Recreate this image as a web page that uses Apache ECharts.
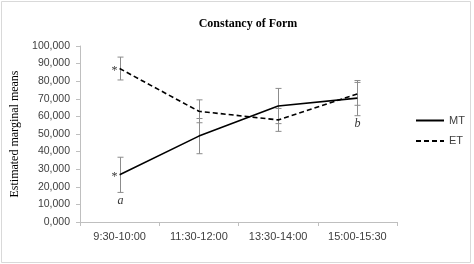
<!DOCTYPE html>
<html><head><meta charset="utf-8">
<script src="https://cdn.jsdelivr.net/npm/echarts@6/dist/echarts.min.js"></script>
<style>html,body{margin:0;padding:0;background:#fff}#c{width:474px;height:264px}</style>
</head><body><div id="c"></div>
<script>
const categories = ['9:30-10:00','11:30-12:00','13:30-14:00','15:00-15:30'];
const mtMeans = [26800, 48800, 65900, 70400];
const mtErr = [10000, 10000, 10000, 10000];
const etMeans = [87200, 62900, 58000, 72800];
const etErr = [6500, 6500, 6500, 6500];
const yTicks = [0, 10000, 20000, 30000, 40000, 50000, 60000, 70000, 80000, 90000, 100000];
const mtLetters = ['a', '', '', 'b'];
const stars = ['*', '', '', ''];

function fmt(v){ return v === 0 ? '0,000' : (v/1000) + ',000'; }

function errSeries(name, means, errs, letters, marks){
  return {
    type: 'custom', name: name + 'err', silent: true, z: 3,
    data: means.map((m,i)=>[i, m-errs[i], m+errs[i], m, letters ? letters[i] : '', marks[i]]),
    renderItem: function(params, api){
      const lo = api.coord([api.value(0), api.value(1)]);
      const hi = api.coord([api.value(0), api.value(2)]);
      const mid = api.coord([api.value(0), api.value(3)]);
      const x = Math.round(lo[0]) + 0.5;
      const st = {stroke:'#8c8c8c', lineWidth:1};
      const ch = [
        {type:'line', shape:{x1:x,y1:hi[1],x2:x,y2:lo[1]}, style:st},
        {type:'line', shape:{x1:x-3,y1:hi[1],x2:x+3,y2:hi[1]}, style:st},
        {type:'line', shape:{x1:x-3,y1:lo[1],x2:x+3,y2:lo[1]}, style:st}
      ];
      const t = api.value(4);
      if (t) ch.push({type:'text', style:{text:t, x:x, y:lo[1]+8, align:'center', verticalAlign:'middle', font:'italic 12px "Liberation Serif"', fill:'#333'}});
      const s = api.value(5);
      if (s) ch.push({type:'text', style:{text:s, x:x-6, y:mid[1]+2, align:'center', verticalAlign:'middle', font:'12px "Liberation Serif"', fill:'#333'}});
      return {type:'group', children:ch};
    }
  };
}

const chart = echarts.init(document.getElementById('c'));
chart.setOption({
  animation: false,
  backgroundColor: '#fff',
  title: { text: 'Constancy of Form', left: 243, textAlign: 'center', top: 13,
    textStyle: { fontFamily: 'Liberation Serif', fontWeight: 'bold', fontSize: 12, color: '#000' } },
  graphic: [{ type:'rect', shape:{x:1.5,y:1.5,width:469,height:261}, style:{fill:'none', stroke:'#d9d9d9', lineWidth:1}, silent:true }],
  legend: { orient:'vertical', left: 415, top: 115, padding: 0, itemWidth: 28, itemHeight: 12, itemGap: 9.5,
    itemStyle: { opacity: 0 },
    textStyle: { fontFamily:'Liberation Sans', fontSize: 11, color:'#404040' },
    data: ['MT','ET'] },
  grid: { left: 80, right: 77, top: 46, bottom: 42 },
  xAxis: { type:'category', data: categories, boundaryGap: true,
    axisLine: { lineStyle: { color:'#bfbfbf' } },
    axisTick: { show:true, length:4, lineStyle:{color:'#bfbfbf'} },
    axisLabel: { fontFamily:'Liberation Sans', fontSize: 11, color:'#404040', margin: 9 } },
  yAxis: { type:'value', min: 0, max: 100000, interval: 10000,
    name: 'Estimated marginal means', nameLocation:'middle', nameGap: 57,
    nameTextStyle: { fontFamily:'Liberation Serif', fontSize: 12, color:'#000' },
    splitLine: { show:false },
    axisLine: { show:true, lineStyle: { color:'#bfbfbf' } },
    axisTick: { show:true, length:4, lineStyle:{color:'#bfbfbf'} },
    axisLabel: { fontFamily:'Liberation Sans', fontSize: 10.5, color:'#404040', margin: 10,
      formatter: function(v){ return yTicks.indexOf(v) >= 0 ? fmt(v) : ''; } } },
  series: [
    errSeries('MT', mtMeans, mtErr, mtLetters, stars),
    errSeries('ET', etMeans, etErr, null, stars),
    { name:'MT', type:'line', symbol:'none', z:5,
      lineStyle:{ color:'#000', width:1.6, type:'solid' }, itemStyle:{color:'#000'},
      data: mtMeans },
    { name:'ET', type:'line', symbol:'none', z:5,
      lineStyle:{ color:'#000', width:1.6, type:[5,3] }, itemStyle:{color:'#000'},
      data: etMeans }
  ]
});
</script></body></html>
